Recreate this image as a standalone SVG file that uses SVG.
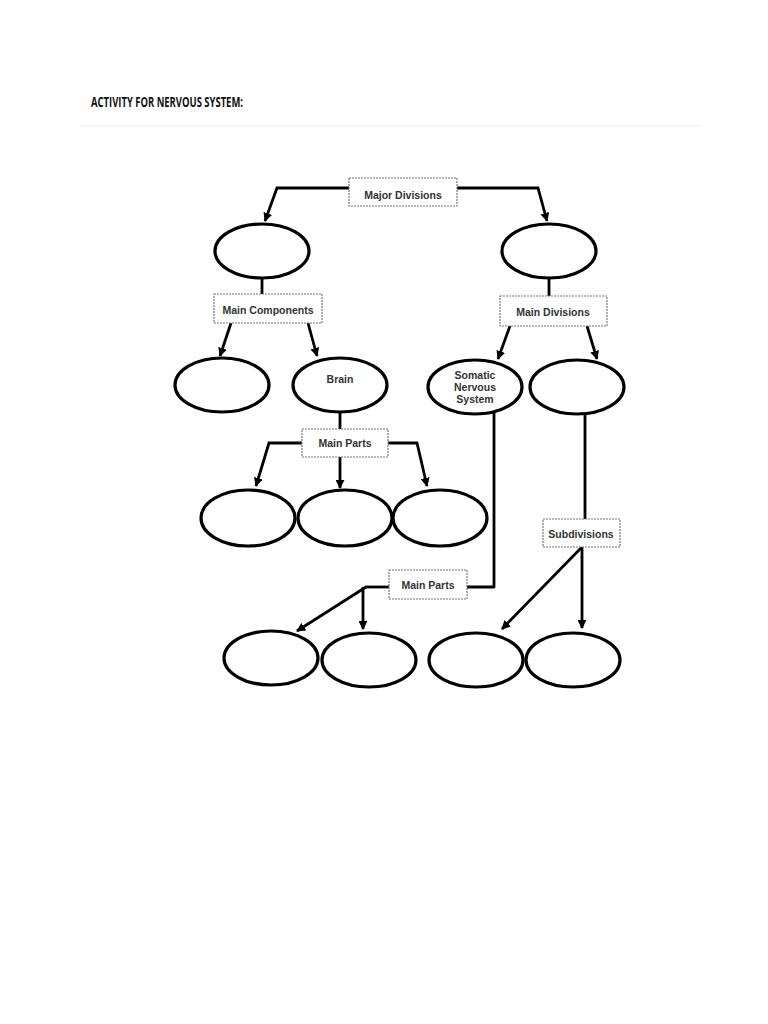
<svg xmlns="http://www.w3.org/2000/svg" width="768" height="1024" viewBox="0 0 768 1024">
<defs>
<marker id="ah" viewBox="0 0 10 10" refX="9" refY="5" markerWidth="9" markerHeight="9" markerUnits="userSpaceOnUse" orient="auto">
<path d="M0,0 L10,5 L0,10 z" fill="#000"/>
</marker>
<style>
.ov{fill:#fff;stroke:#000;stroke-width:3.2}
.bx{fill:#fff;stroke:#777;stroke-width:1.2;stroke-dasharray:2 1}
.ln{fill:none;stroke:#000;stroke-width:2.8;stroke-linejoin:round}
.ar{fill:none;stroke:#000;stroke-width:2.8;marker-end:url(#ah)}
.lb{font-family:"Liberation Sans",Arial,sans-serif;font-weight:bold;font-size:10.5px;fill:#333;text-anchor:middle}
</style>
</defs>
<rect width="768" height="1024" fill="#fff"/>
<text x="91" y="107" font-family="'Open Sans','Liberation Sans',sans-serif" font-weight="bold" font-size="13.5" fill="#111" textLength="152" lengthAdjust="spacingAndGlyphs">ACTIVITY FOR NERVOUS SYSTEM:</text>
<line x1="80" y1="126" x2="700" y2="126" stroke="#f2f2f2" stroke-width="1.5"/>

<g id="connectors">
<polyline class="ar" points="349,188 277,188 265,221"/>
<polyline class="ar" points="457,188 538,188 547,221"/>
<line class="ln" x1="262" y1="278" x2="262" y2="294"/>
<line class="ln" x1="549" y1="278" x2="549" y2="296"/>
<line class="ar" x1="231" y1="323" x2="220" y2="356"/>
<line class="ar" x1="308" y1="323" x2="317" y2="356"/>
<line class="ar" x1="510" y1="326" x2="498" y2="359"/>
<line class="ar" x1="587" y1="326" x2="597" y2="359"/>
<line class="ln" x1="340" y1="412" x2="340" y2="429"/>
<polyline class="ar" points="302,443 269,443 256,486"/>
<line class="ar" x1="340" y1="457" x2="340" y2="488"/>
<polyline class="ar" points="388,443 417,443 427,486"/>
<polyline class="ln" points="494,408 494,587 467,587"/>
<line class="ln" x1="585" y1="415" x2="585" y2="519"/>
<polyline class="ln" points="389,587 365,587"/>
<line class="ar" x1="366" y1="587" x2="297" y2="631"/>
<line class="ar" x1="363" y1="587" x2="363" y2="629"/>
<line class="ar" x1="582" y1="547" x2="502" y2="629"/>
<line class="ar" x1="582" y1="547" x2="582" y2="628"/>
</g>

<g id="major-divisions"><rect class="bx" x="349" y="178" width="108" height="28"/><text class="lb" x="403" y="199">Major Divisions</text></g>
<g id="div-left"><ellipse class="ov" cx="262" cy="251" rx="47" ry="27"/></g>
<g id="div-right"><ellipse class="ov" cx="549" cy="251" rx="47" ry="27"/></g>
<g id="main-components"><rect class="bx" x="214" y="294" width="108" height="29"/><text class="lb" x="268" y="314">Main Components</text></g>
<g id="main-divisions"><rect class="bx" x="500" y="296" width="107" height="30"/><text class="lb" x="553" y="316">Main Divisions</text></g>
<g id="comp-left"><ellipse class="ov" cx="222" cy="385" rx="47" ry="27"/></g>
<g id="brain"><ellipse class="ov" cx="340" cy="385" rx="47" ry="27"/><text class="lb" x="340" y="383">Brain</text></g>
<g id="somatic"><ellipse class="ov" cx="475" cy="387" rx="47" ry="27"/><text class="lb" x="475" y="379" font-size="10">Somatic</text><text class="lb" x="475" y="391" font-size="10">Nervous</text><text class="lb" x="475" y="403" font-size="10">System</text></g>
<g id="div-other"><ellipse class="ov" cx="577" cy="387" rx="47" ry="27"/></g>
<g id="main-parts-1"><rect class="bx" x="302" y="429" width="86" height="28"/><text class="lb" x="345" y="447">Main Parts</text></g>
<g id="part-1"><ellipse class="ov" cx="248" cy="518" rx="47" ry="28"/></g>
<g id="part-2"><ellipse class="ov" cx="345" cy="518" rx="47" ry="28"/></g>
<g id="part-3"><ellipse class="ov" cx="440" cy="518" rx="47" ry="28"/></g>
<g id="subdivisions"><rect class="bx" x="543" y="519" width="77" height="28"/><text class="lb" x="581" y="538">Subdivisions</text></g>
<g id="main-parts-2"><rect class="bx" x="389" y="570" width="78" height="29"/><text class="lb" x="428" y="589">Main Parts</text></g>
<g id="sns-part-1"><ellipse class="ov" cx="271" cy="658" rx="47" ry="27"/></g>
<g id="sns-part-2"><ellipse class="ov" cx="369" cy="660" rx="47" ry="27"/></g>
<g id="sub-1"><ellipse class="ov" cx="476" cy="660" rx="47" ry="27"/></g>
<g id="sub-2"><ellipse class="ov" cx="573" cy="660" rx="47" ry="27"/></g>
</svg>
